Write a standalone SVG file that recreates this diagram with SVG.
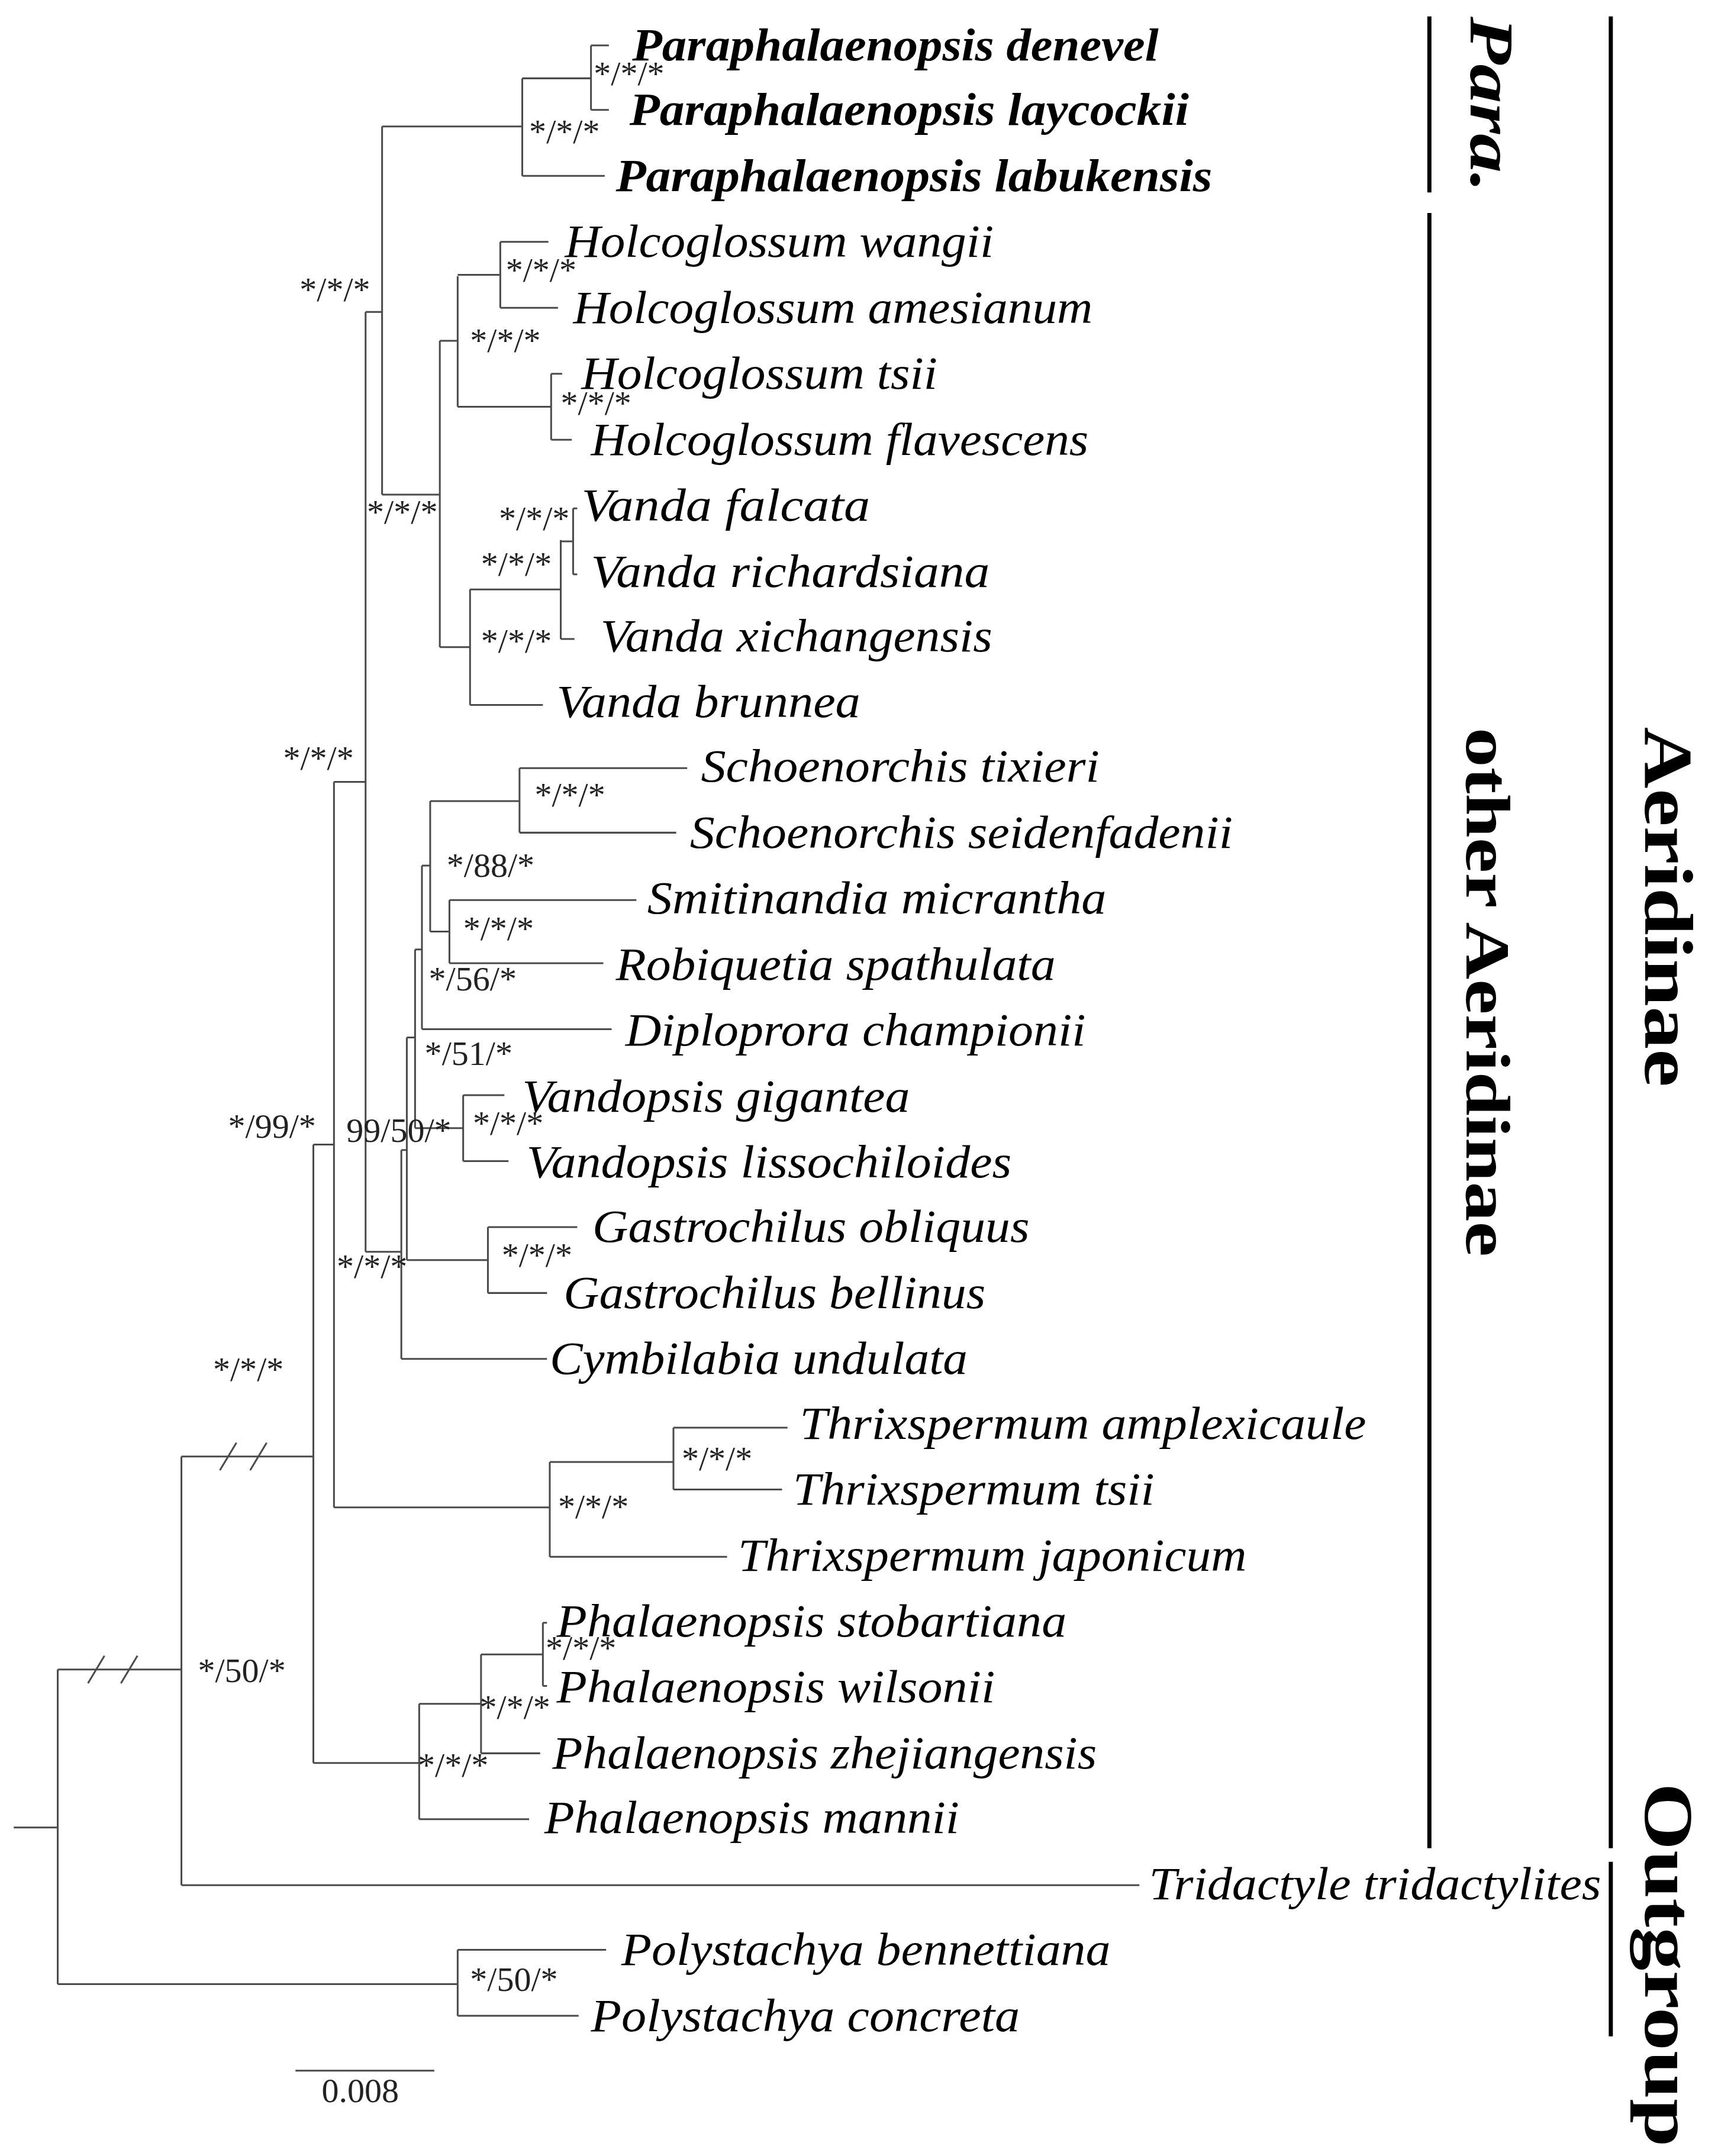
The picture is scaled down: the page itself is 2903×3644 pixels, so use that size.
<svg xmlns="http://www.w3.org/2000/svg" width="2903" height="3644" viewBox="0 0 2903 3644">
<style>
.br{fill:none;stroke:#4a4a4a;stroke-width:1.3}
.bar{stroke:#000;stroke-width:3}
.leaf{font-family:"Liberation Serif",serif;font-style:italic;font-size:34px;fill:#000}
.bold{font-weight:bold}
.sup{font-family:"Liberation Serif",serif;font-size:25px;fill:#222}
.grp{font-family:"Liberation Serif",serif;font-weight:bold;fill:#000}
</style>
<rect width="2903" height="3644" fill="#fff"/>
<g transform="scale(2.3224)">
<g id="connectors">
<path class="br" d="M430,33V80M430,33H443M430,80H443M380,57V128M380,57H430M380,128H440M278,92V360M278,92H380M266,227V911M266,227H278"/>
<path class="br" d="M278,360H320M320,248V471M333,201V296M320,248H333M364,176V224M333,200H364M364,176H399M364,224H406M401,272V320M333,296H401M401,272H409M401,320H416"/>
<path class="br" d="M320,471H342M342,429V513M342,513H395M408,393V465M342,429H408M408,465H418M417,370V418M408,394H417M417,370H420M417,418H420"/>
<path class="br" d="M243,569H266M266,911H292M292,837V989M292,989H398M296,755V917M292,837H296M355,893V941M296,917H355M355,893H420M355,941H398M302,691V821M296,755H302M337,797V845M302,821H337M337,797H367M337,845H370M307,630V749M302,691H307M307,749H445M313,583V678M307,630H313M378,559V606M313,583H378M378,559H500M378,606H492M327,655V701M313,678H327M327,655H463M327,701H439"/>
<path class="br" d="M243,569V1097M228,833H243M243,1097H400M400,1064V1133M400,1133H529M490,1039V1084M400,1064H490M490,1039H573M490,1084H569"/>
<path class="br" d="M228,833V1283M228,1283H305M305,1240V1324M305,1324H385M350,1204V1276M305,1240H350M350,1276H393M395,1181V1227M350,1204H395M395,1181H398M395,1227H398"/>
<path class="br" d="M132,1060H228M132,1060V1372M132,1372H829M42,1215H132M42,1215V1444M10,1330H42M42,1444H333M333,1419V1467M333,1419H441M333,1467H421"/>
<path class="br" d="M160,1070L172,1050M182,1070L194,1050M64,1225L76,1205M88,1225L100,1205"/>
<path class="br" d="M215,1507H316"/>
</g>
<g id="bars">
<line class="bar" x1="1040" y1="12" x2="1040" y2="140"/>
<line class="bar" x1="1040" y1="155" x2="1040" y2="1345"/>
<line class="bar" x1="1172" y1="12" x2="1172" y2="1345"/>
<line class="bar" x1="1172" y1="1355" x2="1172" y2="1482"/>
<text class="grp" font-style="italic" font-size="46" transform="translate(1070,76) rotate(90)" text-anchor="middle" textLength="128" lengthAdjust="spacingAndGlyphs">Para.</text>
<text class="grp" font-size="46" transform="translate(1067,722) rotate(90)" text-anchor="middle" textLength="385" lengthAdjust="spacingAndGlyphs">other Aeridinae</text>
<text class="grp" font-size="50" transform="translate(1197,660) rotate(90)" text-anchor="middle" textLength="262" lengthAdjust="spacingAndGlyphs">Aeridinae</text>
<text class="grp" font-size="50" transform="translate(1197,1430) rotate(90)" text-anchor="middle" textLength="265" lengthAdjust="spacingAndGlyphs">Outgroup</text>
</g>
<g id="leaves">
<text class="leaf bold" x="460" y="44" textLength="383" lengthAdjust="spacingAndGlyphs">Paraphalaenopsis denevel</text>
<text class="leaf bold" x="458" y="91" textLength="407" lengthAdjust="spacingAndGlyphs">Paraphalaenopsis laycockii</text>
<text class="leaf bold" x="448" y="139" textLength="434" lengthAdjust="spacingAndGlyphs">Paraphalaenopsis labukensis</text>
<text class="leaf" x="411" y="187" textLength="312" lengthAdjust="spacingAndGlyphs">Holcoglossum wangii</text>
<text class="leaf" x="417" y="235" textLength="378" lengthAdjust="spacingAndGlyphs">Holcoglossum amesianum</text>
<text class="leaf" x="423" y="283" textLength="259" lengthAdjust="spacingAndGlyphs">Holcoglossum tsii</text>
<text class="leaf" x="430" y="331" textLength="362" lengthAdjust="spacingAndGlyphs">Holcoglossum flavescens</text>
<text class="leaf" x="423" y="379" textLength="210" lengthAdjust="spacingAndGlyphs">Vanda falcata</text>
<text class="leaf" x="430" y="427" textLength="290" lengthAdjust="spacingAndGlyphs">Vanda richardsiana</text>
<text class="leaf" x="437" y="474" textLength="285" lengthAdjust="spacingAndGlyphs">Vanda xichangensis</text>
<text class="leaf" x="405" y="522" textLength="221" lengthAdjust="spacingAndGlyphs">Vanda brunnea</text>
<text class="leaf" x="510" y="569" textLength="290" lengthAdjust="spacingAndGlyphs">Schoenorchis tixieri</text>
<text class="leaf" x="502" y="617" textLength="395" lengthAdjust="spacingAndGlyphs">Schoenorchis seidenfadenii</text>
<text class="leaf" x="471" y="665" textLength="334" lengthAdjust="spacingAndGlyphs">Smitinandia micrantha</text>
<text class="leaf" x="448" y="713" textLength="320" lengthAdjust="spacingAndGlyphs">Robiquetia spathulata</text>
<text class="leaf" x="455" y="761" textLength="335" lengthAdjust="spacingAndGlyphs">Diploprora championii</text>
<text class="leaf" x="380" y="809" textLength="282" lengthAdjust="spacingAndGlyphs">Vandopsis gigantea</text>
<text class="leaf" x="383" y="857" textLength="353" lengthAdjust="spacingAndGlyphs">Vandopsis lissochiloides</text>
<text class="leaf" x="431" y="904" textLength="318" lengthAdjust="spacingAndGlyphs">Gastrochilus obliquus</text>
<text class="leaf" x="410" y="952" textLength="307" lengthAdjust="spacingAndGlyphs">Gastrochilus bellinus</text>
<text class="leaf" x="400" y="1000" textLength="304" lengthAdjust="spacingAndGlyphs">Cymbilabia undulata</text>
<text class="leaf" x="582" y="1047" textLength="412" lengthAdjust="spacingAndGlyphs">Thrixspermum amplexicaule</text>
<text class="leaf" x="577" y="1095" textLength="263" lengthAdjust="spacingAndGlyphs">Thrixspermum tsii</text>
<text class="leaf" x="537" y="1143" textLength="370" lengthAdjust="spacingAndGlyphs">Thrixspermum japonicum</text>
<text class="leaf" x="405" y="1191" textLength="371" lengthAdjust="spacingAndGlyphs">Phalaenopsis stobartiana</text>
<text class="leaf" x="405" y="1239" textLength="319" lengthAdjust="spacingAndGlyphs">Phalaenopsis wilsonii</text>
<text class="leaf" x="402" y="1287" textLength="396" lengthAdjust="spacingAndGlyphs">Phalaenopsis zhejiangensis</text>
<text class="leaf" x="396" y="1334" textLength="302" lengthAdjust="spacingAndGlyphs">Phalaenopsis mannii</text>
<text class="leaf" x="836" y="1382" textLength="329" lengthAdjust="spacingAndGlyphs">Tridactyle tridactylites</text>
<text class="leaf" x="452" y="1430" textLength="356" lengthAdjust="spacingAndGlyphs">Polystachya bennettiana</text>
<text class="leaf" x="430" y="1478" textLength="312" lengthAdjust="spacingAndGlyphs">Polystachya concreta</text>
</g>
<g id="support">
<text class="sup" x="432" y="62">*/*/*</text>
<text class="sup" x="385" y="104">*/*/*</text>
<text class="sup" x="218" y="219">*/*/*</text>
<text class="sup" x="368" y="205">*/*/*</text>
<text class="sup" x="342" y="256">*/*/*</text>
<text class="sup" x="408" y="302">*/*/*</text>
<text class="sup" x="267" y="381">*/*/*</text>
<text class="sup" x="363" y="386">*/*/*</text>
<text class="sup" x="350" y="419">*/*/*</text>
<text class="sup" x="350" y="475">*/*/*</text>
<text class="sup" x="206" y="560">*/*/*</text>
<text class="sup" x="389" y="587">*/*/*</text>
<text class="sup" x="325" y="638">*/88/*</text>
<text class="sup" x="337" y="684">*/*/*</text>
<text class="sup" x="312" y="721">*/56/*</text>
<text class="sup" x="309" y="775">*/51/*</text>
<text class="sup" x="166" y="828">*/99/*</text>
<text class="sup" x="252" y="831" font-size="19">99/50/*</text>
<text class="sup" x="344" y="826">*/*/*</text>
<text class="sup" x="365" y="922">*/*/*</text>
<text class="sup" x="245" y="930">*/*/*</text>
<text class="sup" x="155" y="1005">*/*/*</text>
<text class="sup" x="496" y="1070">*/*/*</text>
<text class="sup" x="406" y="1105">*/*/*</text>
<text class="sup" x="397" y="1208">*/*/*</text>
<text class="sup" x="349" y="1251">*/*/*</text>
<text class="sup" x="304" y="1293">*/*/*</text>
<text class="sup" x="144" y="1224">*/50/*</text>
<text class="sup" x="342" y="1449">*/50/*</text>
<text class="sup" x="234" y="1530">0.008</text>
</g>
</g>
</svg>
